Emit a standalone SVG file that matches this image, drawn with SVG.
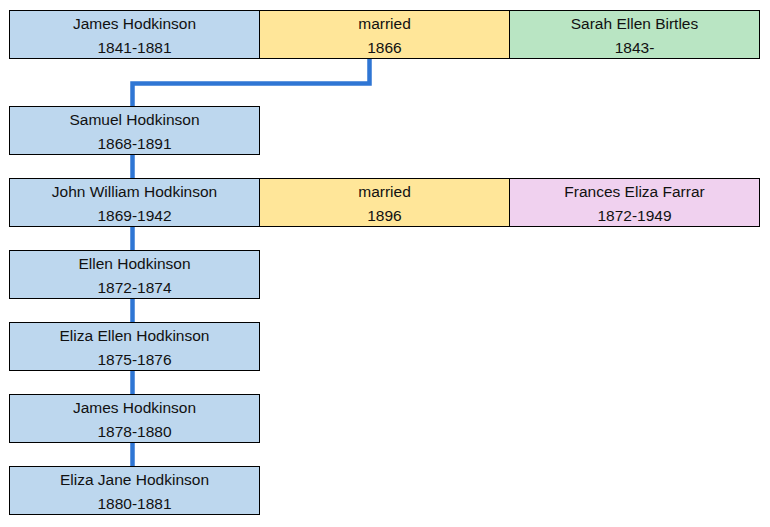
<svg xmlns="http://www.w3.org/2000/svg" width="770" height="527" viewBox="0 0 770 527">
<style>
.b{stroke:#000;stroke-width:1}
.p{fill:#bdd7ee}.m{fill:#ffe699}.g{fill:#b9e5c3}.f{fill:#f0d1ef}
text{font-family:"Liberation Sans",Arial,sans-serif;font-size:15.5px;fill:#111;text-anchor:middle}
.c{fill:none;stroke:#2f76d4;stroke-width:4.5}
</style>
<rect width="770" height="527" fill="#fff"/>
<g id="connectors">
<path class="c" d="M369.5 58.5V83.5H132.5V106.5"/>
<path class="c" d="M132.5 154.5V178.5"/>
<path class="c" d="M132.5 226.5V250.5"/>
<path class="c" d="M132.5 298.5V322.5"/>
<path class="c" d="M132.5 370.5V394.5"/>
<path class="c" d="M132.5 442.5V466.5"/>
</g>
<g id="james1"><rect class="b p" x="9.5" y="10.5" width="250" height="48"/><text x="134.5" y="29">James Hodkinson</text><text x="134.5" y="53">1841-1881</text></g>
<g id="married1"><rect class="b m" x="259.5" y="10.5" width="250" height="48"/><text x="384.5" y="29">married</text><text x="384.5" y="53">1866</text></g>
<g id="sarah"><rect class="b g" x="509.5" y="10.5" width="250" height="48"/><text x="634.5" y="29">Sarah Ellen Birtles</text><text x="634.5" y="53">1843-</text></g>
<g id="samuel"><rect class="b p" x="9.5" y="106.5" width="250" height="48"/><text x="134.5" y="125">Samuel Hodkinson</text><text x="134.5" y="149">1868-1891</text></g>
<g id="john"><rect class="b p" x="9.5" y="178.5" width="250" height="48"/><text x="134.5" y="197">John William Hodkinson</text><text x="134.5" y="221">1869-1942</text></g>
<g id="married2"><rect class="b m" x="259.5" y="178.5" width="250" height="48"/><text x="384.5" y="197">married</text><text x="384.5" y="221">1896</text></g>
<g id="frances"><rect class="b f" x="509.5" y="178.5" width="250" height="48"/><text x="634.5" y="197">Frances Eliza Farrar</text><text x="634.5" y="221">1872-1949</text></g>
<g id="ellen"><rect class="b p" x="9.5" y="250.5" width="250" height="48"/><text x="134.5" y="269">Ellen Hodkinson</text><text x="134.5" y="293">1872-1874</text></g>
<g id="elizaellen"><rect class="b p" x="9.5" y="322.5" width="250" height="48"/><text x="134.5" y="341">Eliza Ellen Hodkinson</text><text x="134.5" y="365">1875-1876</text></g>
<g id="james2"><rect class="b p" x="9.5" y="394.5" width="250" height="48"/><text x="134.5" y="413">James Hodkinson</text><text x="134.5" y="437">1878-1880</text></g>
<g id="elizajane"><rect class="b p" x="9.5" y="466.5" width="250" height="48"/><text x="134.5" y="485">Eliza Jane Hodkinson</text><text x="134.5" y="509">1880-1881</text></g>
</svg>
